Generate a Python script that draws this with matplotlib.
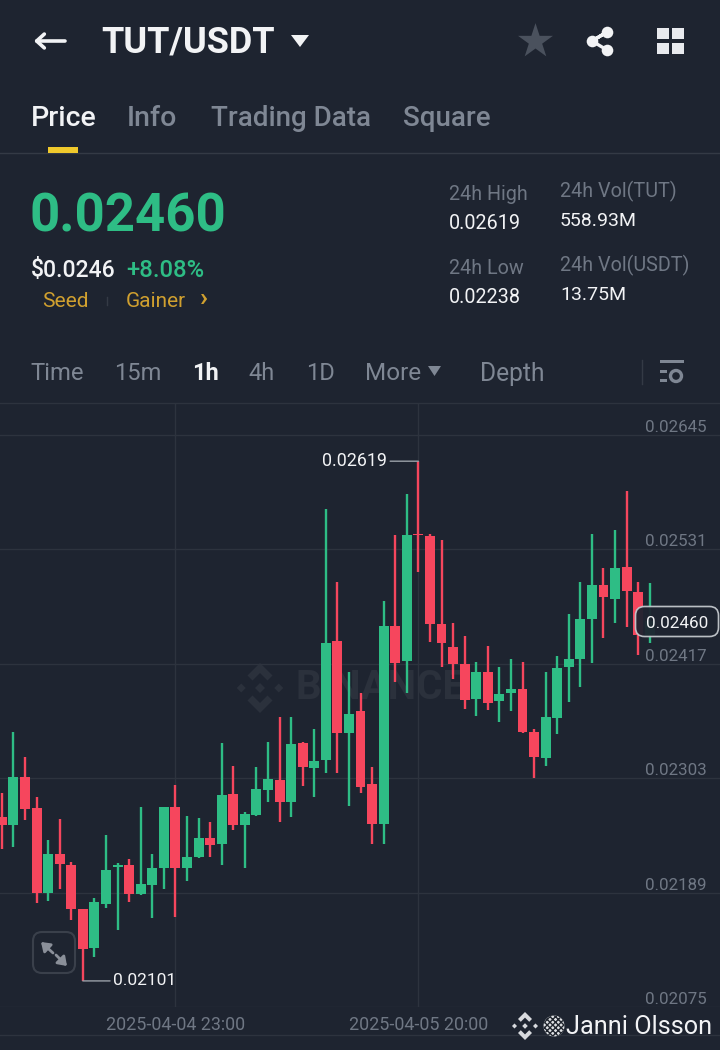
import matplotlib
matplotlib.use("Agg")
import matplotlib.pyplot as plt
from matplotlib.patches import Rectangle, Polygon, Circle, FancyBboxPatch

plt.rcParams['font.family'] = ['Roboto', 'DejaVu Sans']

# ---------- data ----------
opens = [0.02264,0.02256,0.02304,0.02273,0.02189,0.02227,0.02217,0.02173,0.02134,0.02178,
         0.02215,0.02217,0.02188,0.02197,0.02214,0.02274,0.02214,0.02225,0.02243,0.02237,
         0.02287,0.02256,0.02266,0.02291,0.02301,0.02279,0.02338,0.02313,0.02321,0.02440,
         0.02348,0.02370,0.02297,0.02257,0.02455,0.02420,0.02546,0.02544,0.02457,0.02434,
         0.02417,0.02382,0.02409,0.02380,0.02388,0.02392,0.02349,0.02323,0.02363,0.02414,
         0.02422,0.02462,0.02496,0.02482,0.02514,0.02489,0.02446]
closes = [0.02256,0.02304,0.02272,0.02189,0.02227,0.02218,0.02173,0.02133,0.02180,0.02212,
          0.02217,0.02188,0.02198,0.02214,0.02274,0.02214,0.02225,0.02243,0.02236,0.02286,
          0.02256,0.02267,0.02292,0.02302,0.02279,0.02337,0.02314,0.02320,0.02438,0.02348,
          0.02367,0.02294,0.02257,0.02455,0.02418,0.02545,0.02545,0.02457,0.02438,0.02417,
          0.02381,0.02409,0.02378,0.02387,0.02392,0.02349,0.02324,0.02364,0.02413,0.02422,
          0.02462,0.02496,0.02484,0.02513,0.02490,0.02446,0.02460]
highs = [0.02288,0.02349,0.02324,0.02284,0.02241,0.02262,0.02220,0.02173,0.02184,0.02246,
         0.02219,0.02223,0.02274,0.02227,0.02274,0.02296,0.02265,0.02263,0.02259,0.02338,
         0.02315,0.02269,0.02314,0.02339,0.02364,0.02364,0.02339,0.02352,0.02571,0.02499,
         0.02409,0.02388,0.02314,0.02480,0.02545,0.02586,0.02619,0.02546,0.02540,0.02458,
         0.02445,0.02419,0.02435,0.02414,0.02422,0.02419,0.02352,0.02409,0.02425,0.02467,
         0.02499,0.02546,0.02513,0.02550,0.02589,0.02499,0.02498]
lows = [0.02232,0.02234,0.02261,0.02179,0.02181,0.02193,0.02162,0.02101,0.02125,0.02174,
        0.02152,0.02180,0.02187,0.02164,0.02193,0.02165,0.02201,0.02224,0.02225,0.02217,
        0.02251,0.02214,0.02265,0.02279,0.02259,0.02264,0.02295,0.02284,0.02308,0.02308,
        0.02275,0.02288,0.02237,0.02237,0.02399,0.02388,0.02509,0.02439,0.02414,0.02402,
        0.02372,0.02365,0.02371,0.02359,0.02370,0.02348,0.02303,0.02315,0.02347,0.02379,
        0.02394,0.02418,0.02443,0.02458,0.02454,0.02426,0.02438]
price_ticks = [0.02075,0.02189,0.02303,0.02417,0.02531,0.02645]
time_ticks = [15, 36]
time_labels = ["2025-04-04 23:00", "2025-04-05 20:00"]
high_idx, low_idx = 36, 7
high_label, low_label = "0.02619", "0.02101"
current_label = "0.02460"

# ---------- colours ----------
BG = "#1e2430"; GRID = "#2d333e"
GREEN = "#2ebd85"; RED = "#f6465d"
GREY = "#7f8794"; DIM = "#6f7784"; WHITE = "#f2f3f5"; GOLD = "#d0a02f"; YEL = "#f0c92c"

fig = plt.figure(figsize=(7.2, 10.5), dpi=100, facecolor=BG)
PX = 72 / 100  # points per pixel

# background layer (pixel coordinates)
back = fig.add_axes([0, 0, 1, 1], zorder=0)
back.set_xlim(0, 720); back.set_ylim(1050, 0); back.axis("off")

def logo(a, cx, cy, R, color, **kw):
    top = [(0,-1),(.5,-.5),(.3,-.3),(0,-.6),(-.3,-.3),(-.5,-.5)]
    a.add_patch(Polygon([(cx+R*x, cy+R*y) for x, y in top], color=color, lw=0, **kw))
    a.add_patch(Polygon([(cx+R*x, cy-R*y) for x, y in top], color=color, lw=0, **kw))
    for dx, r in [(0,.2),(-.75,.18),(.75,.18)]:
        pts = [(0,-r),(r,0),(0,r),(-r,0)]
        a.add_patch(Polygon([(cx+dx*R+R*x, cy+R*y) for x, y in pts], color=color, lw=0, **kw))

logo(back, 260, 688, 25, "#2b313c")
back.text(295, 688, "BINANCE", color="#2b313c", fontsize=29, fontweight="bold", va="center", ha="left")
back.plot([0, 720], [1035, 1035], color=GRID, lw=1)
back.plot([0, 720], [153, 153], color="#343a45", lw=1)

# chart axes
ax = fig.add_axes([0, 43/1050, 1, 604/1050], zorder=1)
ax.patch.set_alpha(0)
ax.set_xlim(-0.16, 62.07)
ax.set_ylim(0.02075, 0.02677)
for s in ["left", "right", "bottom"]:
    ax.spines[s].set_visible(False)
ax.spines["top"].set_color(GRID)
ax.spines["top"].set_linewidth(1)
ax.set_yticks(price_ticks)
ax.set_yticklabels([f"{p:.5f}" for p in price_ticks])
ax.yaxis.tick_right()
ax.tick_params(axis="y", length=0, pad=-75*PX, labelsize=12.2, labelcolor=DIM)
for t in ax.get_yticklabels():
    t.set_va("bottom")
ax.set_xticks(time_ticks)
ax.set_xticklabels(time_labels)
ax.tick_params(axis="x", length=0, pad=6.5, labelsize=12.9, labelcolor=DIM)
ax.grid(True, color=GRID, lw=1)
ax.set_axisbelow(True)

xs = list(range(len(opens)))
colors = [GREEN if c >= o else RED for o, c in zip(opens, closes)]
ax.vlines(xs, lows, highs, colors=colors, lw=1.7, zorder=3)
ax.bar(xs, [abs(c-o) for o, c in zip(opens, closes)], bottom=[min(o, c) for o, c in zip(opens, closes)],
       width=0.86, color=colors, zorder=4, lw=0)

ann = dict(arrowstyle="-", color="#9aa0a8", lw=1, shrinkA=0, shrinkB=0)
ax.annotate(high_label, xy=(high_idx, highs[high_idx]), xytext=(-31*PX, 0), textcoords="offset points",
            color=WHITE, fontsize=12.9, ha="right", va="center", arrowprops=ann, zorder=5)
ax.annotate(low_label, xy=(low_idx, lows[low_idx]), xytext=(30*PX, 0), textcoords="offset points",
            color=WHITE, fontsize=12.5, ha="left", va="center", arrowprops=ann, zorder=5)

# foreground layer
ui = fig.add_axes([0, 0, 1, 1], zorder=2)
ui.patch.set_alpha(0)
ui.set_xlim(0, 720); ui.set_ylim(1050, 0); ui.axis("off")

def T(x, y, s, color=WHITE, size=14, weight="normal", ha="left"):
    ui.text(x, y + 1.5, s, color=color, fontsize=size, fontweight=weight, ha=ha, va="center")

# header
ui.annotate("", xy=(34, 41), xytext=(65, 41),
            arrowprops=dict(arrowstyle="->,head_length=0.55,head_width=0.5", color=WHITE, lw=2.6, shrinkA=0, shrinkB=0))
T(101, 41, "TUT/USDT", size=26, weight="bold")
ui.add_patch(Polygon([(291,35),(309,35),(300,47)], color=WHITE, lw=0))
ui.scatter([535], [41], marker="*", s=700, color="#4a515d", lw=0)
ui.plot([592, 607, 592, 607], [41, 32, 41, 50], color=WHITE, lw=2.4)
ui.scatter([607, 592, 607], [32, 41, 50], s=70, color=WHITE, lw=0)
for x0, y0 in [(657,28),(672,28),(657,43),(672,43)]:
    ui.add_patch(Rectangle((x0, y0), 12, 11, color="#e8eaee", lw=0))

# tabs
T(31, 117, "Price", size=20.5, weight="medium")
T(127, 117, "Info", GREY, 20.5, "medium")
T(211, 117, "Trading Data", GREY, 20, "medium")
T(403, 117, "Square", GREY, 20, "medium")
ui.add_patch(Rectangle((48, 147), 30, 6, color=YEL, lw=0))

# price block
T(30, 216, "0.02460", GREEN, 38, "bold")
T(31, 269, "$0.0246", WHITE, 16.5, "medium")
T(126, 269, "+8.08%", GREEN, 17.2, "medium")
T(42, 300, "Seed", GOLD, 15)
T(126, 300, "Gainer", GOLD, 15)
T(200, 298, "\u203a", GOLD, 19, "bold")
ui.plot([107, 107], [297, 305], color="#343a45", lw=1)

T(449, 193, "24h High", DIM, 14.2)
T(449, 222, "0.02619", WHITE, 14.2)
T(560, 190, "24h Vol(TUT)", DIM, 14.2)
T(560, 219, "558.93M", WHITE, 14)
T(449, 267, "24h Low", DIM, 14.2)
T(449, 296, "0.02238", WHITE, 14.2)
T(560, 264, "24h Vol(USDT)", DIM, 14.2)
T(560, 293, "13.75M", WHITE, 14)

# timeframes
T(30, 372, "Time", GREY, 17.2)
T(114, 372, "15m", GREY, 17)
T(192, 372, "1h", WHITE, 17, "bold")
T(248, 372, "4h", GREY, 17)
T(306, 372, "1D", GREY, 17)
T(365, 372, "More", GREY, 17.5)
ui.add_patch(Polygon([(428,366),(441,366),(434.5,376)], color=GREY, lw=0))
T(480, 372, "Depth", GREY, 17.7)
ui.plot([642, 642], [360, 384], color="#343a45", lw=1)
ui.add_patch(Rectangle((660, 360), 24, 3, color=GREY, lw=0))
ui.add_patch(Rectangle((660, 370), 7, 3, color=GREY, lw=0))
ui.add_patch(Rectangle((660, 379), 7, 3, color=GREY, lw=0))
ui.add_patch(Circle((676, 376), 5.5, fc="none", ec=GREY, lw=2.4))

# expand button
ui.add_patch(FancyBboxPatch((40, 939), 28, 27, boxstyle="round,pad=7,rounding_size=9",
                            fc="none", ec="#3a404b", lw=1.5))
arrow = dict(arrowstyle="-|>,head_length=0.5,head_width=0.35", color="#8a8f99", lw=2, shrinkA=0, shrinkB=0)
ui.annotate("", xy=(41, 942), xytext=(53, 953), arrowprops=arrow)
ui.annotate("", xy=(67, 966), xytext=(56, 955), arrowprops=arrow)

# current price box
ui.add_patch(FancyBboxPatch((641, 612), 72, 19, boxstyle="round,pad=5.5,rounding_size=9",
                            fc=BG, ec="#c4c8cd", lw=1.2, alpha=0.95))
T(646, 622, current_label, WHITE, 12.3)

# footer watermark
logo(ui, 525, 1026, 14, "#d8dade")
ui.add_patch(Circle((554, 1026), 10.5, fc="#dfe1e4", ec="none"))
ui.add_patch(Circle((554, 1026), 10.5, fc="none", ec="#20252e", lw=0, hatch="xxxxxx"))
T(566, 1025, "Janni Olsson", WHITE, 18.2)

fig.savefig("out.png", dpi=100, facecolor=BG)
